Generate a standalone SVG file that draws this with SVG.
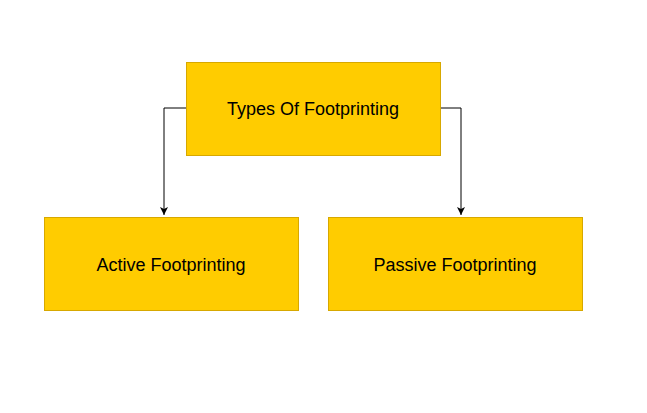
<svg xmlns="http://www.w3.org/2000/svg" width="647" height="413" viewBox="0 0 647 413">
<style>
.n{fill:#FFCC00;stroke:#D7A800;stroke-width:1}
.t{font-family:"Liberation Sans",Arial,sans-serif;font-size:18px;fill:#000;text-anchor:middle;dominant-baseline:central}
.c{fill:none;stroke:#000;stroke-width:1}
</style>
<defs><marker id="a" markerWidth="10" markerHeight="10" refX="8" refY="4" orient="auto" markerUnits="userSpaceOnUse"><path d="M0,0L8,4L0,8L2,4Z" fill="#000"/></marker></defs>
<rect width="647" height="413" fill="#fff"/>
<g id="connectors">
<path class="c" d="M186,108H164V215" marker-end="url(#a)"/>
<path class="c" d="M440,108H461V215" marker-end="url(#a)"/>
</g>
<g id="types"><rect class="n" x="186.5" y="62.5" width="254" height="93"/><text class="t" x="313" y="109">Types Of Footprinting</text></g>
<g id="active"><rect class="n" x="44.5" y="217.5" width="254" height="93"/><text class="t" x="171" y="265">Active Footprinting</text></g>
<g id="passive"><rect class="n" x="328.5" y="217.5" width="254" height="93"/><text class="t" x="455" y="265">Passive Footprinting</text></g>
</svg>
